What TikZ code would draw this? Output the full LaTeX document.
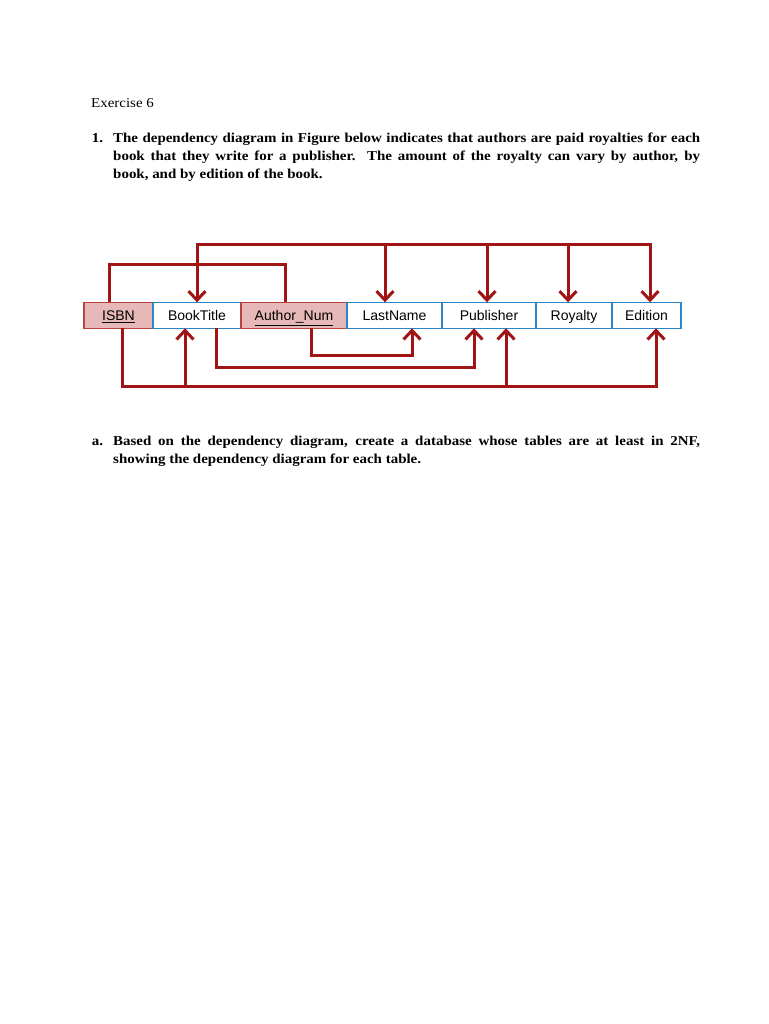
\documentclass[tikz,border=0pt]{standalone}
\usepackage{fontspec}
\setmainfont[FakeStretch=1.1]{Liberation Serif}
\newfontfamily\boxfont{Liberation Sans}
\usepackage{tikz}
\usetikzlibrary{arrows.meta,positioning}
\definecolor{deparrow}{HTML}{A01414}
\definecolor{keyfill}{HTML}{E6B9B8}
\definecolor{keyline}{HTML}{B8433F}
\definecolor{attrline}{HTML}{2A86C8}
\tikzset{
  every picture/.style = {
    x = 1pt,
    y = -1pt,
    >= {Straight Barb[length=9pt,width=17pt]},
  }
  ,
  attr/.style = {
    rectangle,
    draw = attrline,
    line width = 1.6pt,
    font = \boxfont\fontsize{14}{16}\selectfont,
    minimum height = 26pt,
    text height = 12pt,
    text depth = 1pt,
    inner sep = 0pt,
    outer sep = 0pt
  }
  , % key attributes
  key/.style = {
    attr,
    draw = keyline,
    fill = keyfill
  }
  , % dependency lines
  dep/.style = {
    draw = deparrow,
    line width = 3pt
  }
  , % question text
  para/.style = {
    text width = 587pt,
    align = justify,
    inner sep = 0pt,
    anchor = base west,
    font = \bfseries\fontsize{13.6}{18}\selectfont
  }
  ,
  numlabel/.style = {
    inner sep = 0pt,
    anchor = base west,
    font = \bfseries\fontsize{13.6}{18}\selectfont
  }
}
\begin{document}
\begin{tikzpicture}
    \path [use as bounding box, fill=white] (0,0) rectangle (768,1024);
    \node [inner sep = 0pt, anchor = base west, font = \fontsize{13.6}{18}\selectfont] (title) at (91,107.3) {Exercise 6};
    \node [numlabel] (n1) at (91.7,142.7) {1.};
    \node [para] (q1) at (113,142.7) {The dependency diagram in Figure below indicates that authors are paid royalties for each\linebreak book that they write for a publisher.\ \ The amount of the royalty can vary by author, by\linebreak book, and by edition of the book.};
    % the attributes
    \node [key, minimum width = 69pt] (isbn) at (118.5,315.3) {\underline{ISBN}};
    \node [attr, minimum width = 88pt, right = 0pt of isbn] (book) {BookTitle};
    \node [key, minimum width = 106pt, right = 0pt of book] (auth) {\underline{Author\_Num}};
    \node [attr, minimum width = 95pt, right = 0pt of auth] (last) {LastName};
    \node [attr, minimum width = 94pt, right = 0pt of last] (pub) {Publisher};
    \node [attr, minimum width = 76pt, right = 0pt of pub] (roy) {Royalty};
    \node [attr, minimum width = 69pt, right = 0pt of roy] (ed) {Edition};
    % rails
    \coordinate (railtop) at (420,244);
    \coordinate (railkey) at (200,264);
    \coordinate (raila) at (360,355);
    \coordinate (railb) at (340,367);
    \coordinate (railc) at (400,386);
    % full dependencies
    \draw [dep] ([xshift=-9.5pt]isbn.north) |- (railkey) -| ([xshift=-9pt]auth.north);
    \draw [dep, <->] (book.north) |- (railtop) -| ([xshift=3.5pt]ed.north);
    \foreach \n/\dx in {last/-9.5, pub/-2, roy/-6}
      \draw [dep, ->] ([xshift=\dx pt]\n.north |- railtop) -- ([xshift=\dx pt]\n.north);
    % partial dependencies
    \draw [dep, ->] ([xshift=17pt]auth.south) |- (raila) -| ([xshift=17.5pt]last.south);
    \draw [dep, ->] ([xshift=19pt]book.south) |- (railb) -| ([xshift=-15pt]pub.south);
    \draw [dep, ->] ([xshift=3.5pt]isbn.south) |- (railc) -| ([xshift=9.5pt]ed.south);
    \foreach \n/\dx in {book/-12, pub/17}
      \draw [dep, ->] ([xshift=\dx pt]\n.south |- railc) -- ([xshift=\dx pt]\n.south);
    \node [numlabel] (na) at (91.7,445.5) {a.};
    \node [para] (qa) at (113,445.5) {Based on the dependency diagram, create a database whose tables are at least in 2NF,\linebreak showing the dependency diagram for each table.};
\end{tikzpicture}
\end{document}
